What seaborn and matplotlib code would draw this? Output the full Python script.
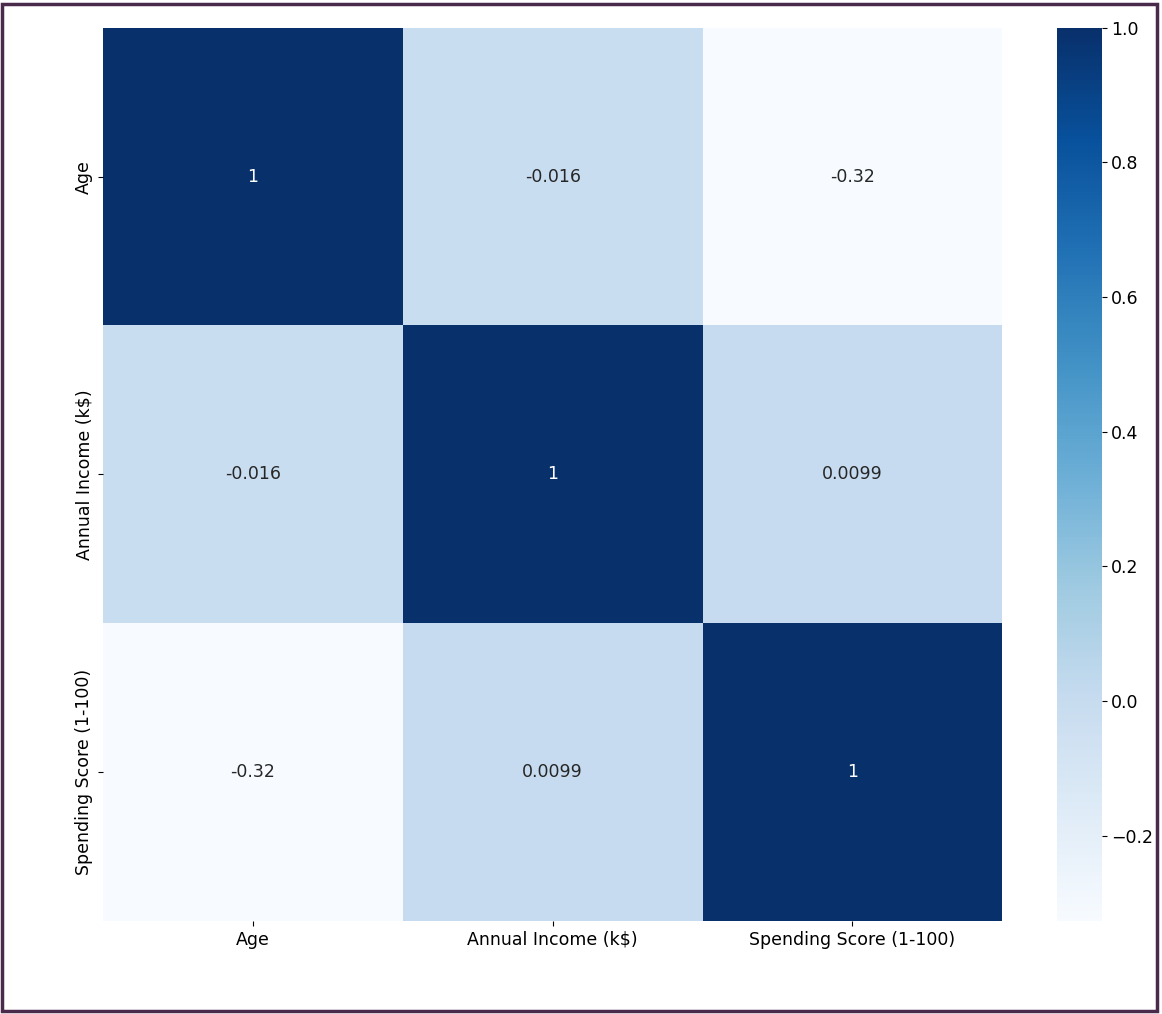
import numpy as np
import pandas as pd
import seaborn as sns
import matplotlib.pyplot as plt
from matplotlib.patches import Rectangle

labels = ["Age", "Annual Income (k$)", "Spending Score (1-100)"]
age = [1.0, -0.012, -0.327]
income = [-0.012, 1.0, 0.0099]
spending = [-0.327, 0.0099, 1.0]
annot_text = [["1", "-0.016", "-0.32"],
              ["-0.016", "1", "0.0099"],
              ["-0.32", "0.0099", "1"]]

corr = pd.DataFrame([age, income, spending], index=labels, columns=labels)

fig = plt.figure(figsize=(11.62, 10.14), dpi=100)
ax = fig.add_axes([0.0886, 0.0917, 0.774, 0.881])
cax = fig.add_axes([0.910, 0.0917, 0.038, 0.881])

sns.heatmap(corr, annot=np.array(annot_text), fmt="", cmap="Blues", ax=ax, cbar_ax=cax,
            annot_kws={"fontsize": 12.5})
ax.tick_params(labelsize=12.5)
cax.tick_params(labelsize=12.5)
cax.set_yticks([-0.2, 0.0, 0.2, 0.4, 0.6, 0.8, 1.0])

# purple frame around the picture
fig.patches.append(Rectangle((0.002, 0.003), 0.994, 0.993, transform=fig.transFigure,
                             fill=False, edgecolor="#4a2a4a", linewidth=2.5, zorder=10))

fig.savefig("out.png", dpi=100)
